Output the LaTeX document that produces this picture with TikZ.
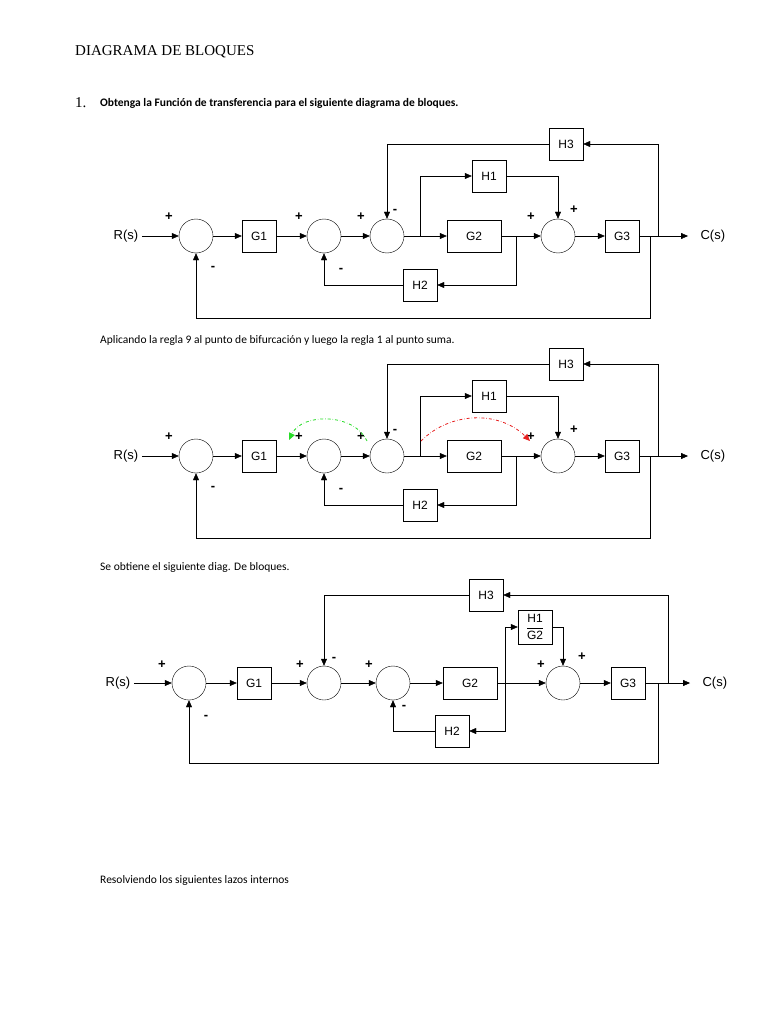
\documentclass[tikz,border=0pt]{standalone}
\usepackage{amsmath}
\usepackage{fontspec}
\setmainfont{Carlito}
\newfontfamily\diagfont{Liberation Sans}
\newfontfamily\titlefont{Liberation Serif}
\usepackage{tikz}
\usetikzlibrary{arrows.meta,positioning,calc}
\definecolor{arcgreen}{RGB}{40,220,40}
\definecolor{arcred}{RGB}{230,30,30}

\begin{document}
\begin{tikzpicture}[x=1pt,y=-1pt,
    sum/.style={circle,draw,minimum size=34pt,inner sep=0pt},
    blk/.style={rectangle,draw,minimum width=34pt,minimum height=32pt,font=\diagfont\fontsize{12}{14}\selectfont},
    wide/.style={blk,minimum width=54pt},
    sig/.style={font=\diagfont\bfseries\fontsize{13}{15}\selectfont,inner sep=0pt},
    lbl/.style={font=\diagfont\fontsize{13}{15}\selectfont},
    txt/.style={anchor=west,font=\fontsize{11.5}{13}\selectfont,inner sep=0pt},
    >={Triangle[length=7pt,width=6pt]}]
    \useasboundingbox (0,0) rectangle (768,1024);

    % Texts
    \node[anchor=west,inner sep=0pt,font=\titlefont\fontsize{15}{17}\selectfont] (title) at (75,52) {DIAGRAMA DE BLOQUES};
    \node[anchor=west,inner sep=0pt,font=\titlefont\fontsize{15}{17}\selectfont] (num) at (75,103) {1.};
    \node[txt,font=\bfseries\fontsize{11.5}{13}\selectfont] (t1) at (100,103) {Obtenga la Función de transferencia para el siguiente diagrama de bloques.};
    \node[txt] (t2) at (100,340) {Aplicando la regla 9 al punto de bifurcación y luego la regla 1 al punto suma.};
    \node[txt] (t3) at (100,567) {Se obtiene el siguiente diag. De bloques.};
    \node[txt] (t4) at (100,880) {Resolviendo los siguientes lazos internos};

    % Original diagram and its copy
    \foreach \d/\oy in {a/0,b/220}{
    \begin{scope}[yshift=-\oy pt]
    \node[lbl] (r\d) at (126,236) {R(s)};
    \node[sum] (s1\d) at (196,236) {};
    \node[blk] (g1\d) at (259,236) {G1};
    \node[sum] (s2\d) at (324,236) {};
    \node[sum] (s3\d) at (387,236) {};
    \node[wide] (g2\d) at (474,236) {G2};
    \node[sum] (s4\d) at (558,236) {};
    \node[blk] (g3\d) at (622,236) {G3};
    \node[blk] (h3\d) at (566,144) {H3};
    \node[blk] (h1\d) at (489,176) {H1};
    \node[blk] (h2\d) at (420,285) {H2};
    \coordinate (o\d) at (688,236);
    \node[lbl,anchor=west] (c\d) at (697,236) {C(s)};
    \coordinate (b1\d) at (420,236);
    \coordinate (b2\d) at (516,236);
    \coordinate (b3\d) at (658,236);
    \coordinate (b4\d) at (650,236);
    \coordinate (bot\d) at (650,318);

    % Forward path
    \draw[->] (r\d) -- (s1\d);
    \draw[->] (s1\d) -- (g1\d);
    \draw[->] (g1\d) -- (s2\d);
    \draw[->] (s2\d) -- (s3\d);
    \draw[->] (s3\d) -- (g2\d);
    \draw[->] (g2\d) -- (s4\d);
    \draw[->] (s4\d) -- (g3\d);
    \draw[->] (g3\d) -- (o\d);
    % Loops
    \draw[->] (b3\d) |- (h3\d);
    \draw[->] (h3\d) -| (s3\d);
    \draw[->] (b1\d) |- (h1\d);
    \draw[->] (h1\d) -| (s4\d);
    \draw[->] (b2\d) |- (h2\d);
    \draw[->] (h2\d) -| (s2\d);
    \draw[->] (b4\d) -- (bot\d) -| (s1\d);

    % Signs
    \node[sig] at (169,217) {+};
    \node[sig] at (213,268) {-};
    \node[sig] at (299,217) {+};
    \node[sig] at (341,270) {-};
    \node[sig] at (361,217) {+};
    \node[sig] at (395,211) {-};
    \node[sig] at (531,217) {+};
    \node[sig] at (574,210) {+};
    \end{scope}}

    % Moves
    \coordinate (ga) at (367,441);
    \coordinate (gb) at (289,440);
    \coordinate (ra) at (421,441);
    \coordinate (rb) at (530,441);
    \draw[->,arcgreen,dash dot,thick] (ga) to[bend right=65] (gb);
    \draw[->,arcred,dash dot,thick] (ra) to[bend left=45] (rb);

    % Reduced diagram
    \node[lbl] (rc) at (118,683) {R(s)};
    \node[sum] (s1c) at (189,683) {};
    \node[blk] (g1c) at (254,683) {G1};
    \node[sum] (s2c) at (324,683) {};
    \node[sum] (s3c) at (393,683) {};
    \node[wide] (g2c) at (470,683) {G2};
    \node[sum] (s4c) at (563,683) {};
    \node[blk] (g3c) at (628,683) {G3};
    \node[blk] (h3c) at (486,595) {H3};
    \node[blk,minimum height=34pt,inner sep=1pt] (h1c) at (535,627) {$\dfrac{\text{\diagfont H1}}{\text{\diagfont G2}}$};
    \node[blk] (h2c) at (452,731) {H2};
    \coordinate (oc) at (690,683);
    \node[lbl,anchor=west] (cc) at (699,683) {C(s)};
    \coordinate (b1c) at (505,683);
    \coordinate (b3c) at (668,683);
    \coordinate (b4c) at (658,683);
    \coordinate (botc) at (658,763);

    \draw[->] (rc) -- (s1c);
    \draw[->] (s1c) -- (g1c);
    \draw[->] (g1c) -- (s2c);
    \draw[->] (s2c) -- (s3c);
    \draw[->] (s3c) -- (g2c);
    \draw[->] (g2c) -- (s4c);
    \draw[->] (s4c) -- (g3c);
    \draw[->] (g3c) -- (oc);
    \draw[->] (b3c) |- (h3c);
    \draw[->] (h3c) -| (s2c);
    \draw[->] (b1c) |- (h1c);
    \draw[->] (h1c) -| (s4c);
    \draw[->] (b1c) |- (h2c);
    \draw[->] (h2c) -| (s3c);
    \draw[->] (b4c) -- (botc) -| (s1c);

    \node[sig] at (162,665) {+};
    \node[sig] at (206,717) {-};
    \node[sig] at (300,665) {+};
    \node[sig] at (334,659) {-};
    \node[sig] at (369,665) {+};
    \node[sig] at (404,707) {-};
    \node[sig] at (541,665) {+};
    \node[sig] at (582,657) {+};
\end{tikzpicture}
\end{document}
